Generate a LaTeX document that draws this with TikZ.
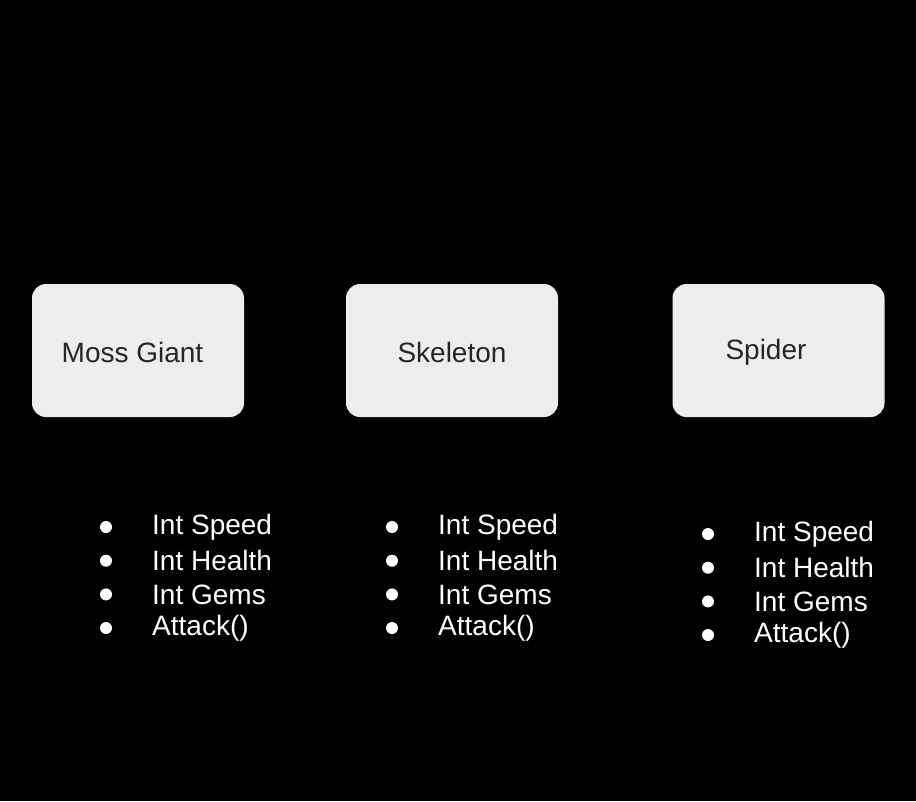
\documentclass[tikz,border=0pt]{standalone}
\usepackage{fontspec}
\setmainfont{Liberation Sans}
\begin{document}
\begin{tikzpicture}[x=1pt,y=-1pt,
  cls/.style={draw=none,fill=black!7,rounded corners=14pt,minimum width=212pt,minimum height=133pt,inner sep=0pt},
  lbl/.style={font=\fontsize{28}{32}\selectfont,text=black!85,inner sep=0pt},
  item/.style={font=\fontsize{28}{32}\selectfont,text=white,anchor=west,inner sep=0pt},
  dot/.style={circle,fill=white,minimum size=12pt,inner sep=0pt}]
\fill[black] (0,0) rectangle (916,801);
\useasboundingbox (0,0) rectangle (916,801);
\node[cls] (b1) at (138,350.5) {};
\node[cls] (b2) at (452,350.5) {};
\node[cls] (b3) at (778.5,350.5) {};
\node[lbl] (t1) at (132.5,352) {Moss Giant};
\node[lbl] (t2) at (452,352) {Skeleton};
\node[lbl] (t3) at (766,352) {Spider};
\foreach \bx/\tx/\y/\n in {106/152/527/a,392/438/527/b,708/754/534/c}{
  \node[dot] (d1\n) at (\bx,\y) {};
  \node[item] (i1\n) at (\tx,\y) {Int Speed};
  \node[dot] (d2\n) at (\bx,\y+33.7) {};
  \node[item] (i2\n) at (\tx,\y+33.7) {Int Health};
  \node[dot] (d3\n) at (\bx,\y+67.4) {};
  \node[item] (i3\n) at (\tx,\y+67.4) {Int Gems};
  \node[dot] (d4\n) at (\bx,\y+101) {};
  \node[item] (i4\n) at (\tx,\y+101) {Attack()};
}
\end{tikzpicture}
\end{document}
